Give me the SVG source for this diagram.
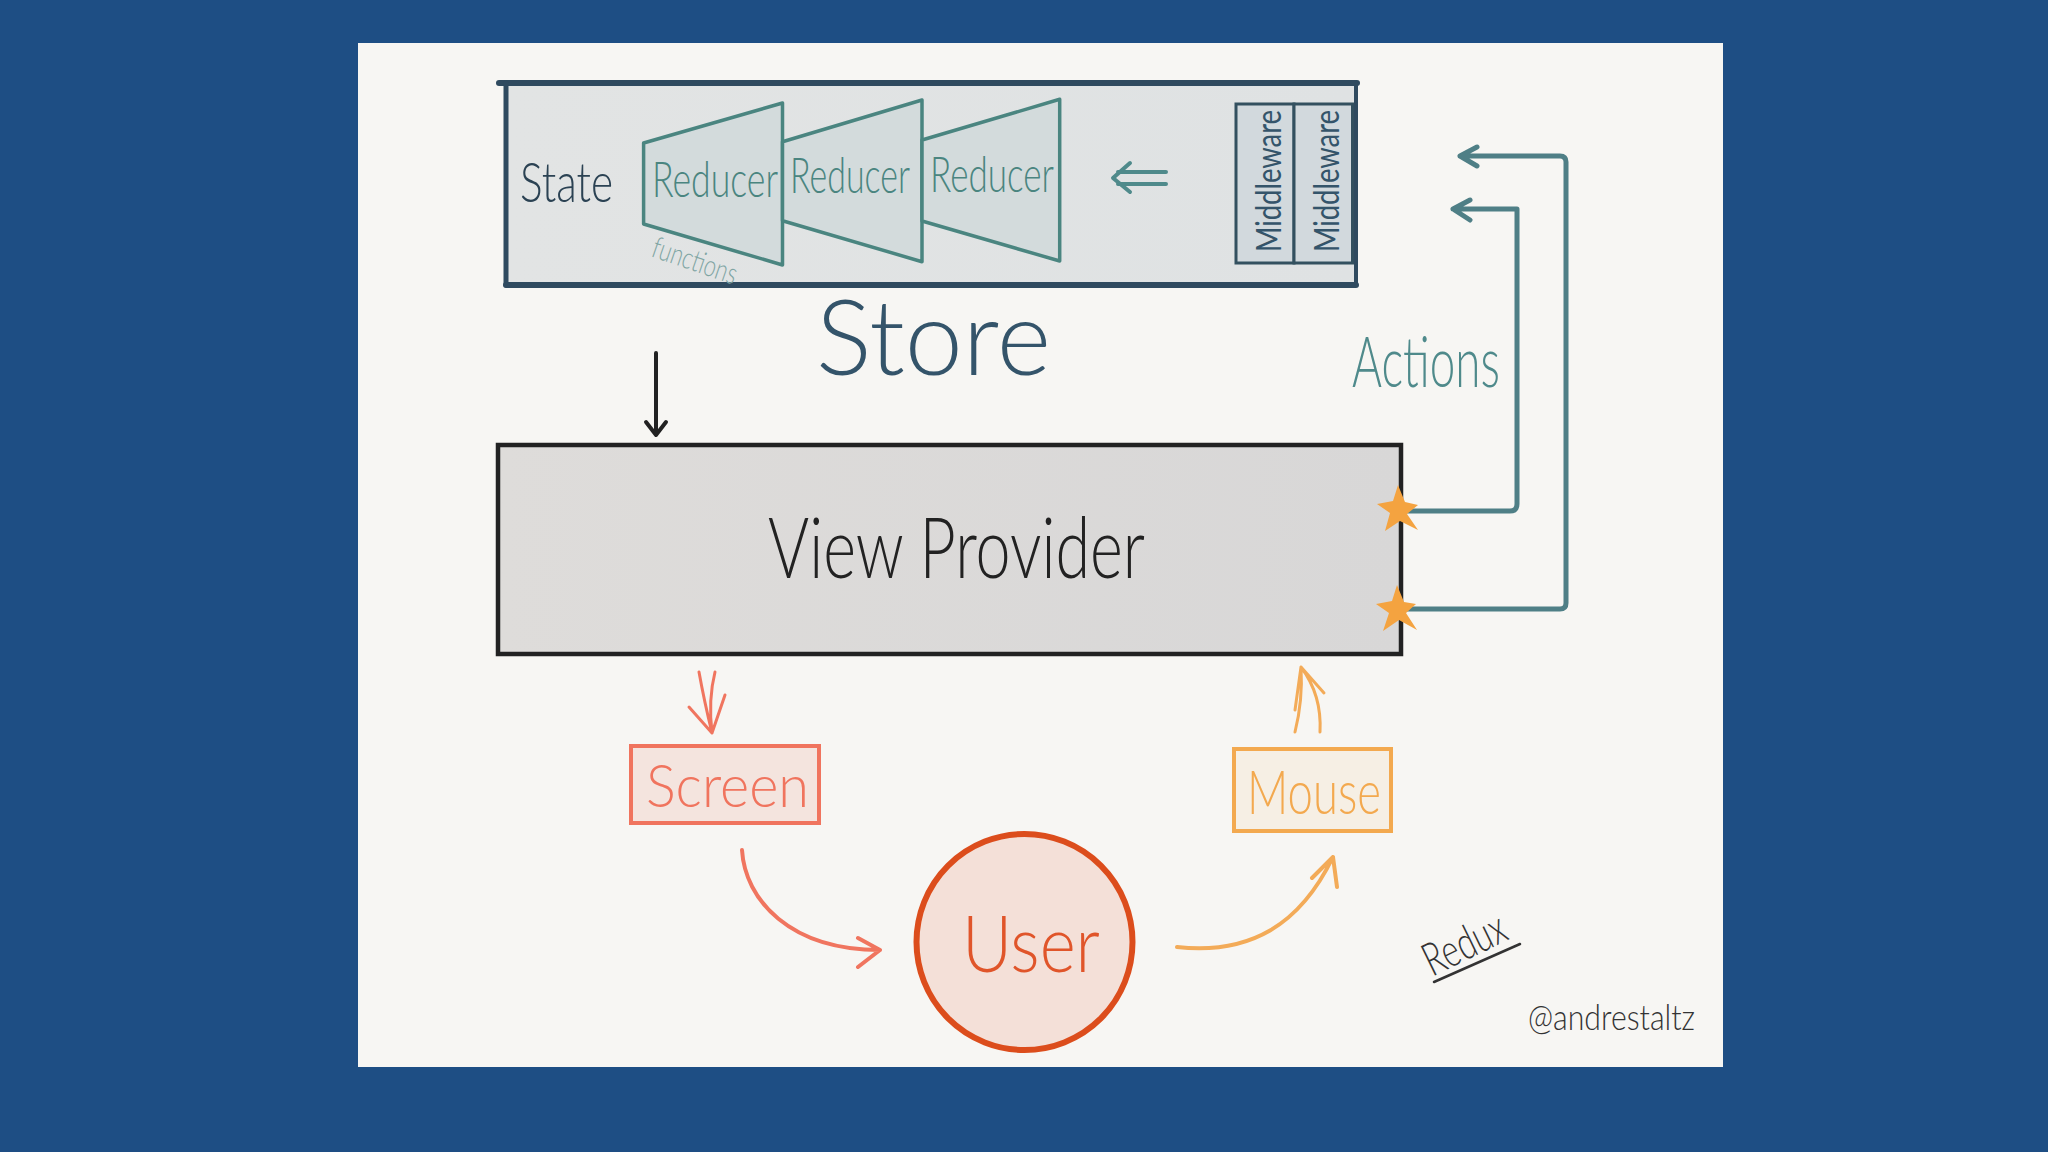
<svg xmlns="http://www.w3.org/2000/svg" width="2048" height="1152" viewBox="0 0 2048 1152">
<style>
text{font-family:"Lato","Open Sans","Liberation Sans",sans-serif;font-weight:300}
.ln{fill:none;stroke-linecap:round;stroke-linejoin:round}
.teal{stroke:#4f7f86;stroke-width:5}
.red{stroke:#f0755f;stroke-width:4}
.org{stroke:#f3ab58;stroke-width:4}
.blk{stroke:#222;stroke-width:4}
.red2{stroke:#f0755f;stroke-width:3}
.org2{stroke:#f3ab58;stroke-width:3}
.reducer{fill:#d3dbdc;stroke:#4a8580;stroke-width:3.500;stroke-linejoin:round}
.redt{fill:#4a8580;font-size:50px}
.mw{fill:#d2d9dd;stroke:#33505f;stroke-width:3}
.mwt{fill:#34546a;font-size:34px;font-weight:400}
.star{fill:#f4a340}
</style>
<defs>
<linearGradient id="st" x1="0" x2="1" y1="0" y2="0"><stop offset="0" stop-color="#e2e4e4"/><stop offset="1" stop-color="#dfe2e3"/></linearGradient>
<linearGradient id="vp" x1="0" x2="1" y1="0" y2="0"><stop offset="0" stop-color="#dedcda"/><stop offset="1" stop-color="#d8d7d7"/></linearGradient>
</defs>
<rect width="2048" height="1152" fill="#1e4e84"/>
<rect x="358" y="43" width="1365" height="1024" fill="#f7f6f3"/>
<g id="store">
<rect x="506" y="83" width="849" height="202" fill="url(#st)"/>
<path class="ln" d="M499,83H1357" stroke="#2f4a5f" stroke-width="6"/>
<path class="ln" d="M506,83V285" stroke="#2f4a5f" stroke-width="5"/>
<path class="ln" d="M1356,83V285" stroke="#2f4a5f" stroke-width="4"/>
<path class="ln" d="M506,285H1356" stroke="#2f4a5f" stroke-width="6"/>
<text x="816" y="375" font-size="104" fill="#34546a" textLength="235" lengthAdjust="spacingAndGlyphs">Store</text>
</g>
<g id="state"><text x="520" y="202" font-size="56" fill="#2b4253" textLength="93" lengthAdjust="spacingAndGlyphs">State</text></g>
<g id="reducer1"><polygon class="reducer" points="643.6,143 782.5,103 782.5,265 643.6,224"/><text class="redt" transform="translate(652,197) scale(.82,1)" textLength="153.700" lengthAdjust="spacingAndGlyphs">Reducer</text></g>
<g id="reducer2"><polygon class="reducer" points="782.5,141.7 922,100 922,261.7 782.5,220.7"/><text class="redt" transform="translate(790,193) scale(.82,1)" textLength="146.300" lengthAdjust="spacingAndGlyphs">Reducer</text></g>
<g id="reducer3"><polygon class="reducer" points="922,140 1059.7,99.3 1059.7,261 922,221"/><text class="redt" transform="translate(930,192) scale(.82,1)" textLength="151.200" lengthAdjust="spacingAndGlyphs">Reducer</text></g>
<g id="functions"><text transform="translate(650,256) rotate(19)" font-size="30" fill="#7fa5a3" textLength="88" lengthAdjust="spacingAndGlyphs">functions</text></g>
<g id="middleware1"><rect class="mw" x="1236" y="104" width="58" height="159"/><text class="mwt" transform="translate(1281,252) rotate(-90)" textLength="142" lengthAdjust="spacingAndGlyphs">Middleware</text></g>
<g id="middleware2"><rect class="mw" x="1294" y="104" width="58.500" height="159"/><text class="mwt" transform="translate(1339,252) rotate(-90)" textLength="142" lengthAdjust="spacingAndGlyphs">Middleware</text></g>
<g id="view-provider">
<rect x="498" y="445" width="903" height="209" fill="url(#vp)" stroke="#222" stroke-width="4.500"/>
<text x="768" y="578" font-size="84" fill="#222" textLength="377" lengthAdjust="spacingAndGlyphs">View Provider</text>
</g>
<g id="connectors">
<path class="ln" d="M1166,172H1118M1166,184H1118M1130,163L1113,178L1130,192" stroke="#4f8a8b" stroke-width="4"/>
<path class="ln blk" d="M656,353V435M646,422L656,435L666,422"/>
<path class="ln teal" d="M1408,511H1510Q1517,511 1517,504V209H1453M1470,200L1453,209L1470,220"/>
<path class="ln teal" d="M1407,609H1560Q1566,609 1566,603V162Q1566,156 1560,156H1460M1477,147L1460,156L1477,166"/>
<path class="ln red2" d="M699,672Q704,700 712,733M715,672Q708,700 712,733M689,707L712,733L725,695"/>
<path class="ln org2" d="M1295,732Q1303,700 1301,667M1320,732Q1322,695 1301,667M1295,710L1301,667L1324,693"/>
<path class="ln red" d="M742,850C745,900 790,950 880,950M858,938L880,950L858,967"/>
<path class="ln org" d="M1177,947C1250,955 1300,925 1333,857M1312,878L1333,857L1337,887"/>
</g>
<g id="star1"><polygon class="star" points="1398,485 1405,502 1418,505 1407,514 1418,530 1400,521 1385,531 1390,513 1377,504 1393,501"/></g>
<g id="star2"><polygon class="star" points="1397,585 1404,602 1416,604 1406,613 1417,630 1399,620 1383,631 1389,613 1376,604 1392,601"/></g>
<g id="actions"><text x="1352" y="387" font-size="70" fill="#4f8a8b" textLength="148" lengthAdjust="spacingAndGlyphs">Actions</text></g>
<g id="screen"><rect x="631" y="746" width="188" height="77" fill="#f4e4de" stroke="#f0745e" stroke-width="4"/><text x="646" y="807" font-size="60" fill="#f0745e" textLength="163" lengthAdjust="spacingAndGlyphs">Screen</text></g>
<g id="mouse"><rect x="1234" y="749" width="157" height="82" fill="#f6efe4" stroke="#f3a94f" stroke-width="4"/><text x="1247" y="814" font-size="62" fill="#f3a94f" textLength="134" lengthAdjust="spacingAndGlyphs">Mouse</text></g>
<g id="user"><circle cx="1024.500" cy="942" r="108" fill="#f4e0d8" stroke="#dc4d1c" stroke-width="6"/><text x="962" y="972" font-size="78" fill="#e0552a" textLength="138" lengthAdjust="spacingAndGlyphs">User</text></g>
<g id="redux"><text transform="translate(1432,977) rotate(-26)" font-size="46" fill="#333" textLength="87" lengthAdjust="spacingAndGlyphs">Redux</text><path class="ln" d="M1434,982L1520,944" stroke="#333" stroke-width="2.500"/></g>
<g id="credit"><text x="1528" y="1030" font-size="36" fill="#333" textLength="167" lengthAdjust="spacingAndGlyphs">@andrestaltz</text></g>
</svg>
